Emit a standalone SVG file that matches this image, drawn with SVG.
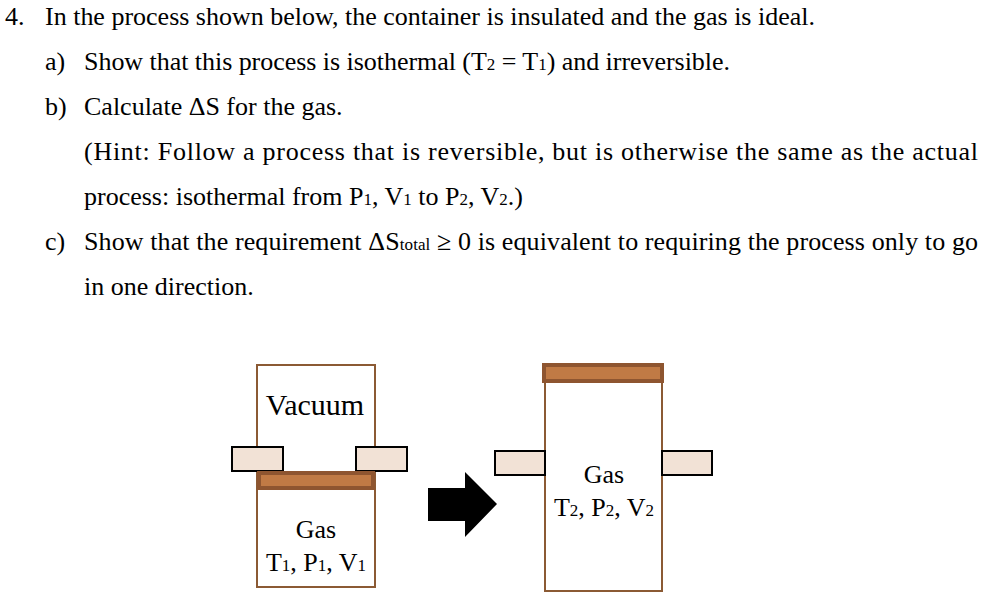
<svg xmlns="http://www.w3.org/2000/svg" width="983" height="597" viewBox="0 0 983 597">
<style>
text{font-family:"Liberation Serif",serif;font-size:26px;fill:#000}
.c{fill:#fff;stroke:#8B5A34;stroke-width:2}
.tab{fill:#F2E2D6;stroke:#000;stroke-width:2}
.pis{fill:#C07A45;stroke:#8E5530;stroke-width:4}
.s{font-size:17px}
</style>
<rect width="983" height="597" fill="#fff"/>
<text x="5" y="25">4.</text>
<text x="45" y="25" textLength="770">In the process shown below, the container is insulated and the gas is ideal.</text>
<text x="45" y="70">a)</text>
<text x="84" y="70" textLength="646">Show that this process is isothermal (T<tspan class="s">2</tspan> = T<tspan class="s">1</tspan>) and irreversible.</text>
<text x="45" y="115">b)</text>
<text x="84" y="115">Calculate ΔS for the gas.</text>
<text x="84" y="160" textLength="894" lengthAdjust="spacing">(Hint: Follow a process that is reversible, but is otherwise the same as the actual</text>
<text x="84" y="205">process: isothermal from P<tspan class="s">1</tspan>, V<tspan class="s">1</tspan> to P<tspan class="s">2</tspan>, V<tspan class="s">2</tspan>.)</text>
<text x="45" y="250">c)</text>
<text x="84" y="250" textLength="894" lengthAdjust="spacing">Show that the requirement ΔS<tspan class="s">total</tspan> ≥ 0 is equivalent to requiring the process only to go</text>
<text x="84" y="295">in one direction.</text>
<g id="left">
<rect class="c" x="257" y="365" width="118" height="222"/>
<rect class="tab" x="232" y="447" width="51" height="24"/>
<rect class="tab" x="356" y="447" width="51" height="24"/>
<rect class="pis" x="259" y="473" width="114" height="15"/>
<text x="315" y="415" text-anchor="middle" style="font-size:30px">Vacuum</text>
<text x="316" y="538" text-anchor="middle">Gas</text>
<text x="316" y="571" text-anchor="middle">T<tspan class="s">1</tspan>, P<tspan class="s">1</tspan>, V<tspan class="s">1</tspan></text>
</g>
<g id="arrow">
<polygon points="428,488 465,488 465,472 497,504 465,537 465,521 428,521" fill="#000"/>
</g>
<g id="right">
<rect class="c" x="545" y="380" width="117" height="211"/>
<rect class="tab" x="495" y="451" width="50" height="24"/>
<rect class="tab" x="662" y="451" width="50" height="24"/>
<rect class="pis" x="544" y="365" width="118" height="16"/>
<text x="604" y="483" text-anchor="middle">Gas</text>
<text x="604" y="516" text-anchor="middle">T<tspan class="s">2</tspan>, P<tspan class="s">2</tspan>, V<tspan class="s">2</tspan></text>
</g>
</svg>
